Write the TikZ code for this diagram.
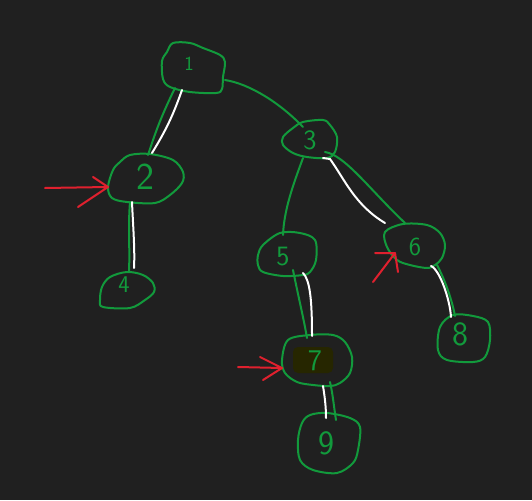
\documentclass[tikz,border=0pt]{standalone}
\usepackage{fontspec}
\begin{document}
\begin{tikzpicture}[x=1pt,y=-1pt,
  ink/.style={draw=gr,line width=2pt,line cap=round,line join=round},
  hl/.style={draw=white,line width=2pt,line cap=round},
  rd/.style={draw=rd,line width=2pt,line cap=round},
  lbl/.style={text=gr,inner sep=0pt,font=\sffamily}]
\definecolor{bg}{HTML}{202020}
\definecolor{gr}{HTML}{129A3C}
\definecolor{rd}{HTML}{E0202E}
\definecolor{ol}{HTML}{262600}
\fill[bg] (0,0) rectangle (532,500);
\useasboundingbox (0,0) rectangle (532,500);
% blobs
\draw[ink] plot[smooth cycle,tension=0.55] coordinates {(173,43) (190,43) (203,48) (220,55) (225,62) (223,77) (222,89) (216,93) (190,92) (170,87) (163,79) (162,61) (167,52)};
\draw[ink] plot[smooth cycle,tension=0.55] coordinates {(130,155) (150,154) (173,160) (183,172) (182,183) (170,195) (155,203) (127,202) (112,198) (108,187) (113,170) (120,162)};
\draw[ink] plot[smooth cycle,tension=0.55] coordinates {(283,137) (293,128) (303,122) (323,120) (330,125) (337,137) (335,152) (327,158) (307,157) (293,153) (283,145)};
\draw[ink] plot[smooth cycle,tension=0.55] coordinates {(110,277) (127,272) (143,275) (153,283) (154,292) (145,300) (130,308) (103,307) (100,300) (102,287)};
\draw[ink] plot[smooth cycle,tension=0.55] coordinates {(263,245) (280,233) (300,233) (315,240) (316,260) (310,272) (303,275) (283,276) (263,272) (258,265) (258,255)};
\draw[ink] plot[smooth cycle,tension=0.55] coordinates {(385,232) (403,224) (427,225) (440,233) (445,245) (442,258) (435,265) (427,268) (410,265) (397,260) (387,247)};
\draw[ink] plot[smooth cycle,tension=0.55] coordinates {(453,315) (473,316) (488,322) (490,340) (485,357) (473,362) (447,360) (438,350) (440,327)};
\fill[ol,rounded corners=5pt] (293,347) rectangle (333,373);
\draw[ink] plot[smooth cycle,tension=0.55] coordinates {(288,340) (310,335) (333,335) (345,342) (352,357) (350,373) (340,383) (330,386) (313,385) (297,382) (285,373) (282,360)};
\draw[ink] plot[smooth cycle,tension=0.55] coordinates {(310,415) (327,413) (350,418) (360,427) (358,450) (353,463) (337,473) (313,470) (300,460) (298,440) (302,423)};
% labels
\node[lbl,font=\sffamily\fontsize{20}{20}\selectfont] (n1) at (189,64) {1};
\node[lbl,font=\sffamily\fontsize{38}{38}\selectfont] (n2) at (145,177) {2};
\node[lbl,font=\sffamily\fontsize{28}{28}\selectfont] (n3) at (310,140) {3};
\node[lbl,font=\sffamily\fontsize{24}{24}\selectfont] (n4) at (124,285) {4};
\node[lbl,font=\sffamily\fontsize{28}{28}\selectfont] (n5) at (283,257) {5};
\node[lbl,font=\sffamily\fontsize{26}{26}\selectfont] (n6) at (415,247) {6};
\node[lbl,font=\sffamily\fontsize{30}{30}\selectfont] (n7) at (315,361) {7};
\node[lbl,font=\sffamily\fontsize{34}{34}\selectfont] (n8) at (460,334) {8};
\node[lbl,font=\sffamily\fontsize{34}{34}\selectfont] (n9) at (326,443) {9};
% connector end points on the blob borders
\coordinate (a12) at (175,88); \coordinate (b12) at (148,155);
\coordinate (w12a) at (182,90); \coordinate (w12b) at (152,153);
\coordinate (a13) at (225,80); \coordinate (b13) at (303,127);
\coordinate (a35) at (303,158); \coordinate (b35) at (283,235);
\coordinate (a36) at (325,152); \coordinate (b36) at (405,223);
\coordinate (w36a) at (323,158); \coordinate (w36b) at (385,223);
\coordinate (a24) at (130,202); \coordinate (b24) at (129,271);
\coordinate (w24a) at (132,202); \coordinate (w24b) at (134,268);
\coordinate (a57) at (293,270); \coordinate (b57) at (307,338);
\coordinate (w57a) at (303,273); \coordinate (w57b) at (312,336);
\coordinate (a68) at (437,265); \coordinate (b68) at (455,316);
\coordinate (w68a) at (431,266); \coordinate (w68b) at (451,317);
\coordinate (a79) at (330,382); \coordinate (b79) at (336,420);
\coordinate (w79a) at (323,386); \coordinate (w79b) at (326,418);
% green connectors
\draw[ink] (a12) to[bend right=4] (b12);
\draw[ink] (a13) .. controls (250,84) and (280,103) .. (b13);
\draw[ink] (a35) .. controls (293,185) and (284,210) .. (b35);
\draw[ink] (a36) .. controls (345,155) and (370,190) .. (b36);
\draw[ink] (a24) .. controls (128,225) and (130,250) .. (b24);
\draw[ink] (a57) .. controls (298,295) and (304,320) .. (b57);
\draw[ink] (a68) .. controls (445,280) and (452,300) .. (b68);
\draw[ink] (a79) .. controls (333,395) and (334,408) .. (b79);
% white highlights
\draw[hl] (w12a) to[bend left=6] (w12b);
\draw[hl] (w36a) -- (330,159) .. controls (345,180) and (355,205) .. (w36b);
\draw[hl] (w24a) .. controls (133,225) and (135,250) .. (w24b);
\draw[hl] (w57a) .. controls (310,280) and (312,300) .. (w57b);
\draw[hl] (w68a) .. controls (440,270) and (450,300) .. (w68b);
\draw[hl] (w79a) .. controls (325,398) and (326,408) .. (w79b);
% red arrows
\coordinate (t2) at (108,187);
\draw[rd] (45,188) -- (t2) (93,177) -- (t2) (78,207) -- (t2);
\coordinate (t6) at (395,253);
\draw[rd] (373,282) -- (t6) (375,253) -- (t6) (398,272) -- (t6);
\coordinate (t7) at (282,368);
\draw[rd] (238,367) -- (t7) (260,357) -- (t7) (263,380) -- (t7);
\end{tikzpicture}
\end{document}
